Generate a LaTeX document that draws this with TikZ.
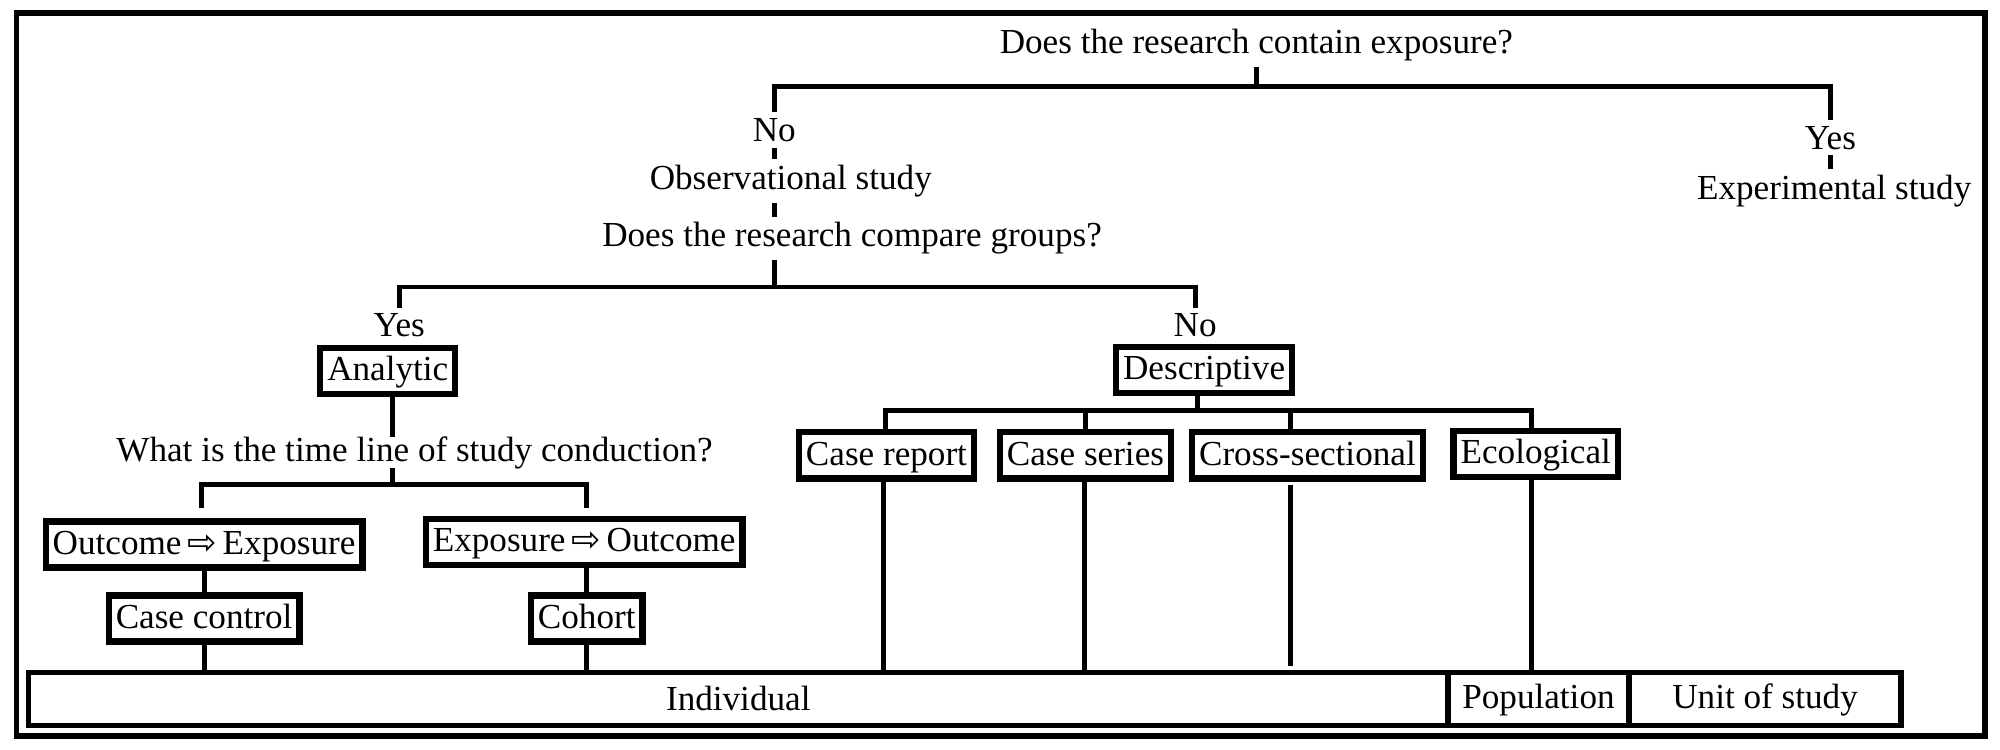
\documentclass[tikz,border=0pt]{standalone}
\usepackage{fontspec}
\setmainfont{Liberation Serif}
\newfontfamily\symfont{DejaVu Sans}
\begin{document}
\begin{tikzpicture}[x=0.012755cm,y=-0.012755cm,line width=1.4pt,font=\fontsize{10}{12}\selectfont]
\tikzset{
	txt/.style={inner sep=1pt},
	box/.style={draw,line width=1.8pt,inner xsep=2pt,inner ysep=1.5pt,text height=1.7ex,text depth=0.5ex},
	unit/.style={draw,line width=1.6pt,inner ysep=2.5pt,text height=1.7ex,text depth=0.5ex,anchor=north west}
}
\def\arr{\,{\symfont\char"21E8}\,}
\useasboundingbox (0,0) rectangle (1568,588);
\draw[line width=1.6pt] (13,10) rectangle (1556,577);
% top level
\node[txt] (q1) at (985,35) {Does the research contain exposure?};
\node[txt] (no) at (607,102) {No};
\node[txt] (obs) at (620,142) {Observational study};
\node[txt] (q2) at (668,187) {Does the research compare groups?};
\node[txt] (yesr) at (1435,108) {Yes};
\node[txt] (exp) at (1438,150) {Experimental study};
\draw (q1.south) -- (q1.south |- 0,68);
\draw (no.north) -- (607,68) -| (yesr.north);
\draw (no.south) -- (obs.north -| no.south);
\draw (obs.south -| no.south) -- (q2.north -| no.south);
\draw (yesr.south) -- (exp.north -| yesr.south);
% second level
\node[txt] (yesl) at (313,255) {Yes};
\node[box] (ana) at (304,291) {Analytic};
\node[txt] (nod) at (937,255) {No};
\node[box] (des) at (944,290) {Descriptive};
\draw (q2.south -| no.south) -- (607,225) -| (yesl.north);
\draw (607,225) -| (nod.north);
% analytic branch
\node[txt] (q3) at (325,355) {What is the time line of study conduction?};
\draw (ana.south -| 308,0) -- (308,343);
\draw (308,367) -- (308,380);
\node[box] (oe) at (160,427) {Outcome\arr Exposure};
\node[box] (eo) at (458,425) {Exposure\arr Outcome};
\draw (158,398) -- (158,380) -- (460,380) -- (460,398);
\node[box] (cc) at (160,485) {Case control};
\node[box] (coh) at (460,485) {Cohort};
\draw (oe.south -| cc.north) -- (cc.north);
\draw (eo.south -| coh.north) -- (coh.north);
% descriptive branch
\node[box] (crep) at (695,357) {Case report};
\node[box] (cser) at (851,357) {Case series};
\node[box] (cross) at (1025,357) {Cross-sectional};
\node[box] (eco) at (1204,356) {Ecological};
\draw (des.south -| 939,0) -- (939,322);
\draw (694,340) -- (694,322) -- (1201,322) -- (1201,340);
\draw (851,322) -- (851,340);
\draw (1012,322) -- (1012,340);
% unit of study
\node[unit,minimum width=14.2cm] (ind) at (20,525) {\phantom{I}};
\node at (ind) {Individual};
\node[unit,minimum width=1.81cm] (pop) at (1133,525) {Population};
\node[unit,minimum width=2.72cm] (uos) at (1275,525) {Unit of study};
\draw (cc.south) -- (cc.south |- ind.north);
\draw (coh.south) -- (coh.south |- ind.north);
\draw (crep.south -| 693,0) -- (693,525);
\draw (cser.south -| 850,0) -- (850,528);
\draw (1012,380) -- (1012,522);
\draw (eco.south -| 1201,0) -- (1201,525);
\end{tikzpicture}
\end{document}
